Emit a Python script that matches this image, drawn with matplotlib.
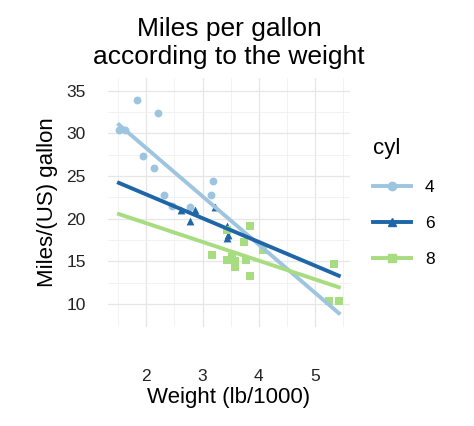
import matplotlib
matplotlib.use("Agg")
import matplotlib.pyplot as plt
import numpy as np
from matplotlib.lines import Line2D

plt.rcParams['font.family'] = ['Liberation Sans', 'DejaVu Sans']

cyls = ["4", "6", "8"]
wt = {
    "4": [2.32, 3.19, 3.15, 2.2, 1.615, 1.835, 2.465, 1.935, 2.14, 1.513, 2.78],
    "6": [2.62, 2.875, 3.215, 3.46, 3.44, 3.44, 2.77],
    "8": [3.44, 3.57, 4.07, 3.73, 3.78, 5.25, 5.424, 5.345, 3.52, 3.435, 3.84, 3.845, 3.17, 3.57],
}
mpg = {
    "4": [22.8, 24.4, 22.8, 32.4, 30.4, 33.9, 21.5, 27.3, 26.0, 30.4, 21.4],
    "6": [21.0, 21.0, 21.4, 18.1, 19.2, 17.8, 19.7],
    "8": [18.7, 14.3, 16.4, 17.3, 15.2, 10.4, 10.4, 14.7, 15.5, 15.2, 13.3, 19.2, 15.8, 15.0],
}
colors = {"4": "#9ec5e0", "6": "#1f66a8", "8": "#a8dc80"}
markers = {"4": "o", "6": "^", "8": "s"}

fig = plt.figure(figsize=(4.74, 4.26), dpi=100)
ax = fig.add_axes([0.228, 0.232, 0.51, 0.585])

allx = np.concatenate([wt[c] for c in cyls])
xs = np.linspace(allx.min(), allx.max(), 50)
handles = []
for c in cyls:
    x = np.array(wt[c]); y = np.array(mpg[c])
    ax.scatter(x, y, color=colors[c], marker=markers[c], s=32, zorder=3, linewidths=0)
    b, a = np.polyfit(x, y, 1)
    ax.plot(xs, a + b * xs, color=colors[c], lw=2.8, zorder=4)
    handles.append(Line2D([], [], color=colors[c], marker=markers[c], lw=2.8, ms=6))

ax.set_xlim(1.32, 5.62)
ax.set_ylim(7.3, 36.5)
ax.set_xticks([2, 3, 4, 5])
ax.set_yticks([10, 15, 20, 25, 30, 35])
ax.set_xticks(np.arange(1.5, 5.6, 1), minor=True)
ax.set_yticks(np.arange(12.5, 36, 5), minor=True)
ax.grid(True, which="major", color="#e6e6e6", lw=0.9)
ax.grid(True, which="minor", color="#f0f0f0", lw=0.6)
ax.set_axisbelow(True)
for s in ax.spines.values():
    s.set_visible(False)
ax.tick_params(which="both", length=0, labelsize=12.5, colors="#222222")
ax.tick_params(axis="x", pad=30)
ax.tick_params(axis="y", pad=16)
ax.set_xlabel("Weight (lb/1000)", fontsize=16, labelpad=2)
ax.set_ylabel("Miles/(US) gallon", fontsize=16, labelpad=6)
ax.set_title("Miles per gallon\naccording to the weight", fontsize=19, pad=10)

leg = ax.legend(handles, cyls, title="cyl", loc="center left", bbox_to_anchor=(1.03, 0.5),
                frameon=False, fontsize=12.5, title_fontsize=16, handlelength=2.2,
                labelspacing=1.2, alignment="left")
fig.savefig("out.png", dpi=100)
